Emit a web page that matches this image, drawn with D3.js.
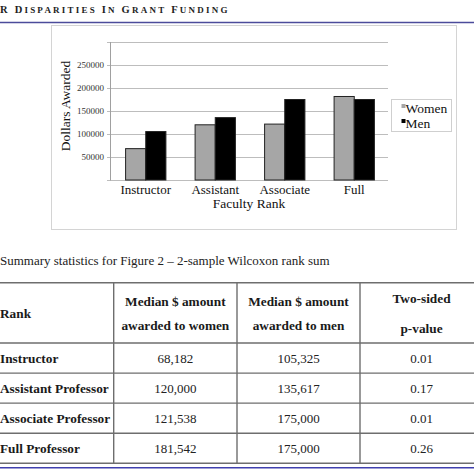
<!DOCTYPE html>
<html>
<head>
<meta charset="utf-8">
<script src="https://cdn.jsdelivr.net/npm/d3@7"></script>
<style>
  body { margin: 0; background: #fff; }
  text { font-family: "Liberation Serif", "Times New Roman", serif; }
</style>
</head>
<body>
<div id="page"></div>
<script>
// chart data
var ranks = ["Instructor", "Assistant", "Associate", "Full"];
var series = ["Women", "Men"];
var women = [68182, 120000, 121538, 181542];
var men = [105325, 135617, 175000, 175000];
var yTicks = [50000, 100000, 150000, 200000, 250000];

// table data
var tableRanks = ["Instructor", "Assistant Professor", "Associate Professor", "Full Professor"];
var womenMedian = ["68,182", "120,000", "121,538", "181,542"];
var menMedian = ["105,325", "135,617", "175,000", "175,000"];
var pValues = ["0.01", "0.17", "0.01", "0.26"];

var svg = d3.select("#page")
    .append("svg")
    .attr("width", 474)
    .attr("height", 474);

// running header, small caps done by hand: [big, small] pairs
var headerParts = [["R", ""], [" D", "ISPARITIES"], [" I", "N"], [" G", "RANT"], [" F", "UNDING"]];
var header = svg.append("text")
    .attr("x", 0)
    .attr("y", 13)
    .attr("fill", "#1e1e1e")
    .attr("font-weight", "bold")
    .attr("letter-spacing", 0.6)
    .attr("textLength", 228);
headerParts.forEach(p => {
    header.append("tspan").attr("font-size", 10.5).text(p[0]);
    if (p[1]) header.append("tspan").attr("font-size", 9).text(p[1]);
});

svg.append("line")
    .attr("x1", 0).attr("x2", 474)
    .attr("y1", 22.5).attr("y2", 22.5)
    .attr("stroke", "#4b4b9b")
    .attr("stroke-width", 1.5);

// chart frame
svg.append("rect")
    .attr("x", 51.5).attr("y", 25.5)
    .attr("width", 405).attr("height", 204)
    .attr("fill", "#fff")
    .attr("stroke", "#d4d4d4");

var xScale = d3.scaleBand()
    .domain(ranks)
    .range([111, 389])
    .paddingInner(0.42)
    .paddingOuter(0.21);

var xInner = d3.scaleBand()
    .domain(series)
    .range([0, xScale.bandwidth()]);

var yScale = d3.scaleLinear()
    .domain([0, 300000])
    .range([180, 42]);

var chart = svg.append("g");

// gridlines
chart.selectAll("line.grid")
    .data(d3.range(0, 300001, 50000))
    .enter()
    .append("line")
    .attr("class", "grid")
    .attr("x1", 107).attr("x2", 388)
    .attr("y1", d => Math.round(yScale(d)) + 0.5)
    .attr("y2", d => Math.round(yScale(d)) + 0.5)
    .attr("stroke", "#bdbdbd");

// y axis line
chart.append("line")
    .attr("x1", 110.5).attr("x2", 110.5)
    .attr("y1", 42).attr("y2", 180.5)
    .attr("stroke", "#a0a0a0");

// y tick labels
chart.selectAll("text.ytick")
    .data(yTicks)
    .enter()
    .append("text")
    .attr("class", "ytick")
    .attr("x", 104)
    .attr("y", d => yScale(d) + 3)
    .attr("text-anchor", "end")
    .attr("font-size", 9)
    .attr("fill", "#333")
    .text(d => d);

var colors = { Women: "#a6a6a6", Men: "#000" };

var groups = chart.selectAll("g.rank")
    .data(ranks.map((r, i) => ({ rank: r, values: [women[i], men[i]] })))
    .enter()
    .append("g")
    .attr("transform", d => `translate(${xScale(d.rank)},0)`);

groups.selectAll("rect")
    .data(d => d.values.map((v, j) => ({ key: series[j], value: v })))
    .enter()
    .append("rect")
    .attr("x", d => xInner(d.key))
    .attr("y", d => yScale(d.value))
    .attr("width", xInner.bandwidth())
    .attr("height", d => 180 - yScale(d.value))
    .attr("fill", d => colors[d.key])
    .attr("stroke", "#222")
    .attr("stroke-width", 1);

// x labels
chart.selectAll("text.xlab")
    .data(ranks)
    .enter()
    .append("text")
    .attr("class", "xlab")
    .attr("x", d => xScale(d) + xScale.bandwidth() / 2)
    .attr("y", 193.5)
    .attr("text-anchor", "middle")
    .attr("font-size", 13)
    .attr("fill", "#111")
    .text(d => d);

chart.append("text")
    .attr("x", 249)
    .attr("y", 208)
    .attr("text-anchor", "middle")
    .attr("font-size", 13.5)
    .attr("fill", "#111")
    .text("Faculty Rank");

chart.append("text")
    .attr("transform", "translate(69.5,106) rotate(-90)")
    .attr("text-anchor", "middle")
    .attr("font-size", 13.5)
    .attr("fill", "#111")
    .text("Dollars Awarded");

// legend
var legend = svg.append("g");
legend.append("rect")
    .attr("x", 391.5).attr("y", 99.5)
    .attr("width", 60).attr("height", 32)
    .attr("fill", "#fff")
    .attr("stroke", "#cfcfcf");

var legendItems = legend.selectAll("g.item")
    .data(series)
    .enter()
    .append("g")
    .attr("transform", (d, i) => `translate(0,${i * 15})`);

legendItems.append("rect")
    .attr("x", 401.5).attr("y", 104)
    .attr("width", 4).attr("height", 4)
    .attr("fill", d => colors[d]);

legendItems.append("text")
    .attr("x", 405.5)
    .attr("y", 112.7)
    .attr("font-size", 13.5)
    .attr("fill", "#111")
    .text(d => d);

// caption
svg.append("text")
    .attr("x", 0)
    .attr("y", 265)
    .attr("font-size", 13)
    .attr("fill", "#222")
    .text("Summary statistics for Figure 2 \u2013 2-sample Wilcoxon rank sum");

// table
var table = svg.append("g");
var colX = [-8, 113.7, 237, 360, 484];
var rowY = d3.scaleBand()
    .domain(tableRanks)
    .range([343, 463.3]);

var hLines = [282.7, 343].concat(tableRanks.map(r => rowY(r) + rowY.bandwidth()));
table.selectAll("line.h")
    .data(hLines)
    .enter()
    .append("line")
    .attr("x1", 0).attr("x2", 474)
    .attr("y1", d => d).attr("y2", d => d)
    .attr("stroke", "#6e6e6e")
    .attr("stroke-width", 1.4);

table.selectAll("line.v")
    .data(colX.slice(1, 4))
    .enter()
    .append("line")
    .attr("x1", d => d).attr("x2", d => d)
    .attr("y1", 282.7).attr("y2", 463.3)
    .attr("stroke", "#6e6e6e")
    .attr("stroke-width", 1.4);

// header cells
var headers = [
    { x: 0, anchor: "start", lines: ["Rank"], ys: [317.5] },
    { x: (colX[1] + colX[2]) / 2, anchor: "middle", lines: ["Median $ amount", "awarded to women"], ys: [306, 329.5] },
    { x: (colX[2] + colX[3]) / 2, anchor: "middle", lines: ["Median $ amount", "awarded to men"], ys: [306, 329.5] },
    { x: 421.5, anchor: "middle", lines: ["Two-sided", "p-value"], ys: [302.5, 332.5] }
];
headers.forEach(h => {
    h.lines.forEach((t, i) => {
        table.append("text")
            .attr("x", h.x)
            .attr("y", h.ys[i])
            .attr("text-anchor", h.anchor)
            .attr("font-size", 13.3)
            .attr("font-weight", "bold")
            .attr("fill", "#1a1a1a")
            .text(t);
    });
});

var rows = table.selectAll("g.row")
    .data(tableRanks.map((r, i) => ({ rank: r, w: womenMedian[i], m: menMedian[i], p: pValues[i] })))
    .enter()
    .append("g")
    .attr("transform", d => `translate(0,${rowY(d.rank) + rowY.bandwidth() / 2 + 4.8})`);

rows.append("text")
    .attr("x", 0)
    .attr("font-size", 13.3)
    .attr("font-weight", "bold")
    .attr("fill", "#1a1a1a")
    .text(d => d.rank);

rows.append("text")
    .attr("x", (colX[1] + colX[2]) / 2)
    .attr("text-anchor", "middle")
    .attr("font-size", 13)
    .attr("fill", "#222")
    .text(d => d.w);

rows.append("text")
    .attr("x", (colX[2] + colX[3]) / 2)
    .attr("text-anchor", "middle")
    .attr("font-size", 13)
    .attr("fill", "#222")
    .text(d => d.m);

rows.append("text")
    .attr("x", 421.5)
    .attr("text-anchor", "middle")
    .attr("font-size", 13)
    .attr("fill", "#222")
    .text(d => d.p);

// closing rule
svg.append("line")
    .attr("x1", 0).attr("x2", 474)
    .attr("y1", 467.8).attr("y2", 467.8)
    .attr("stroke", "#3f3fae")
    .attr("stroke-width", 1.5);
</script>
</body>
</html>
